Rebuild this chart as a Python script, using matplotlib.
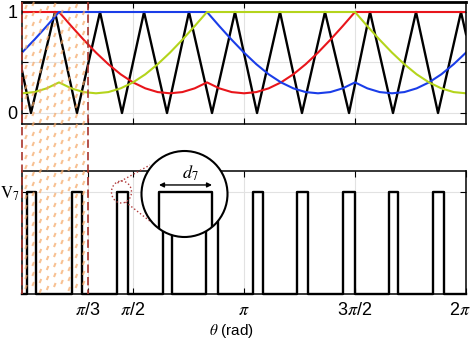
import numpy as np
import matplotlib
matplotlib.use("Agg")
import matplotlib.pyplot as plt
from matplotlib.patches import Circle, Ellipse
from matplotlib.collections import LineCollection
from matplotlib.transforms import ScaledTranslation

plt.rcParams["font.family"] = ["Liberation Sans", "DejaVu Sans"]
plt.rcParams["mathtext.fontset"] = "stix"

# ---- reference (modulating) signals, sampled every 10 degrees ----
ref_deg = list(range(0, 361, 10))
red_ref = [1.0, 1.0, 1.0, 1.0, 0.86, 0.725, 0.598, 0.483, 0.383, 0.303,
           0.244, 0.207, 0.195, 0.207, 0.244, 0.303, 0.244, 0.207, 0.195,
           0.207, 0.244, 0.303, 0.383, 0.483, 0.598, 0.725, 0.86, 1.0,
           1.0, 1.0, 1.0, 1.0, 1.0, 1.0, 1.0, 1.0, 1.0]
blue_ref = [0.598, 0.725, 0.86, 1.0, 1.0, 1.0, 1.0, 1.0, 1.0, 1.0, 1.0,
            1.0, 1.0, 1.0, 1.0, 1.0, 0.86, 0.725, 0.598, 0.483, 0.383,
            0.303, 0.244, 0.207, 0.195, 0.207, 0.244, 0.303, 0.244, 0.207,
            0.195, 0.207, 0.244, 0.303, 0.383, 0.483, 0.598]
green_ref = [0.195, 0.207, 0.244, 0.303, 0.244, 0.207, 0.195, 0.207, 0.244,
             0.303, 0.383, 0.483, 0.598, 0.725, 0.86, 1.0, 1.0, 1.0, 1.0,
             1.0, 1.0, 1.0, 1.0, 1.0, 1.0, 1.0, 1.0, 1.0, 0.86, 0.725,
             0.598, 0.483, 0.383, 0.303, 0.244, 0.207, 0.195]

# ---- triangular carrier vertices (rad, level) ----
carrier_theta = [0.0, 0.127, 0.467, 0.778, 1.104, 1.415, 1.727, 2.052, 2.363,
                 2.689, 3.014, 3.326, 3.651, 3.962, 4.288, 4.628, 4.925,
                 5.250, 5.576, 5.887, 6.212, 6.2832]
carrier_level = [0.42, 0, 1, 0, 1, 0, 1, 0, 1, 0, 1, 0, 1, 0, 1, 0, 1, 0, 1,
                 0, 1, 0.78]

# ---- gate pulses of switch 7 (rising / falling edges, rad) ----
pulse_on = [0.071, 0.708, 1.344, 1.995, 2.604, 3.269, 3.892, 4.543, 5.193, 5.816]
pulse_off = [0.198, 0.849, 1.500, 2.123, 2.774, 3.410, 4.047, 4.712, 5.321, 5.972]
V7 = 1.0

# x ticks
shade_edge = 0.934
xtick_pos = [shade_edge, np.pi / 2, np.pi, 3 * np.pi / 2, 2 * np.pi]
xtick_lab = [r"$\pi$/3", r"$\pi$/2", r"$\pi$", r"3$\pi$/2", r"2$\pi$"]

theta_ref = np.deg2rad(ref_deg)
x_step, y_step = [0.0], [0.0]
for a, b in zip(pulse_on, pulse_off):
    x_step += [a, a, b, b]
    y_step += [0.0, V7, V7, 0.0]
x_step.append(2 * np.pi)
y_step.append(0.0)

W, H = 474, 339
fig = plt.figure(figsize=(W / 100, H / 100), dpi=100)


def rect(l, t, r, b):
    return [l / W, 1 - b / H, (r - l) / W, (b - t) / H]


ax1 = fig.add_axes(rect(22, 2, 466, 124))
ax2 = fig.add_axes(rect(22, 171, 466, 294))

for ax in (ax1, ax2):
    ax.set_xlim(0, 2 * np.pi)
    ax.tick_params(direction="in", top=True, right=True, length=4, width=0.8)
    ax.grid(True, color="#e2e2e2", lw=0.8)
    ax.set_axisbelow(True)
    for s in ax.spines.values():
        s.set_linewidth(1.1)

# upper panel: carrier and references
ax1.plot(carrier_theta, carrier_level, color="k", lw=1.7)
ax1.plot(theta_ref, red_ref, color="#e8151b", lw=1.5)
ax1.plot(theta_ref, blue_ref, color="#1a3de8", lw=1.5)
ax1.plot(theta_ref, green_ref, color="#b4d41c", lw=1.5)
ax1.set_ylim(-0.109, 1.099)
ax1.set_yticks([0, 0.5, 1])
ax1.set_yticklabels(["0", "", "1"], fontsize=13)
ax1.tick_params(axis="y", pad=3.5)
ax1.set_xticks(xtick_pos[:-1])
ax1.set_xticklabels([])
ax1.spines["top"].set_linewidth(2.0)

# lower panel: gate signal
ax2.plot(x_step, y_step, color="k", lw=1.7, clip_on=False, zorder=3)
ax2.set_ylim(0, 1.206)
ax2.set_yticks([V7])
ax2.set_yticklabels([r"$\mathrm{V}_7$"], fontsize=12)
ax2.tick_params(axis="y", pad=1.5)
ax2.set_xticks(xtick_pos)
ax2.set_xticklabels(xtick_lab, fontsize=13)
ax2.tick_params(axis="x", pad=6)
last = ax2.get_xticklabels()[-1]
last.set_transform(last.get_transform() + ScaledTranslation(-0.06, 0, fig.dpi_scale_trans))
ax2.set_xlabel(r"$\theta$ (rad)", fontsize=11, va="center")
ax2.xaxis.set_label_coords(0.471, -0.30)

# overlay in pixel coordinates for the shaded sector and callout
ov = fig.add_axes([0, 0, 1, 1])
ov.set_xlim(0, W)
ov.set_ylim(H, 0)
ov.axis("off")


def to_px(ax, x, y):
    d = ax.transData.transform((x, y))
    return d[0], H - d[1]


x0 = to_px(ax2, 0, 0)[0]
x1 = to_px(ax2, shade_edge, 0)[0]
ytop = to_px(ax1, 0, ax1.get_ylim()[1])[1]
ybot = to_px(ax2, 0, 0)[1]

segs = []
for i, cx in enumerate(np.arange(x0 + 4, x1 - 1, 7.2)):
    for cy in np.arange(ytop + 5 - (i * 3) % 10, ybot - 2, 10):
        if cy < ytop + 2:
            continue
        segs.append([(cx - 0.8, cy + 2.0), (cx + 0.8, cy - 2.0)])
ov.add_collection(LineCollection(segs, colors="#f5a765", linewidths=1.5,
                                 alpha=0.7, capstyle="butt"))
for xx in (x0 + 0.5, x1):
    ov.plot([xx, xx], [ytop, ybot], color="#a8352c", lw=1.2, dashes=(5, 2.5))

# zoom callout around the third pulse
cx3, cy3 = to_px(ax2, (pulse_on[2] + pulse_off[2]) / 2, V7)
ov.add_patch(Ellipse((cx3 - 1, cy3), 20, 22, fill=False, ec="#b03a3a", lw=1.0, ls=":"))
ov.plot([cx3 - 5, 150], [cy3 - 9, 165], color="#b03a3a", lw=1.0, ls=":")
ov.plot([cx3 + 3, 151], [cy3 + 10, 222], color="#b03a3a", lw=1.0, ls=":")

ax_in = fig.add_axes(rect(141.5, 151, 227.5, 237))
ax_in.axis("off")
p_w = pulse_off[2] - pulse_on[2]
scale = 53.0 / p_w
xl = pulse_on[2] - (159 - 141.5) / scale
ax_in.set_xlim(xl, xl + 86 / scale)
ax_in.set_ylim(0.74, 1.24)
bg = Circle((0.5, 0.5), 0.5, transform=ax_in.transAxes, fc="white", ec="none", zorder=0)
ax_in.add_patch(bg)
ln, = ax_in.plot(x_step, y_step, color="k", lw=1.7, zorder=2)
ln.set_clip_path(bg)
ax_in.add_patch(Circle((0.5, 0.5), 0.5, transform=ax_in.transAxes, fc="none",
                       ec="k", lw=1.5, zorder=5, clip_on=False))
ax_in.annotate("", xy=(pulse_off[2], 1.0425), xytext=(pulse_on[2], 1.0425),
               arrowprops=dict(arrowstyle="<|-|>", color="k", lw=1.0,
                               mutation_scale=7, shrinkA=0, shrinkB=0))
ax_in.text(xl + 0.564 * 86 / scale, 1.112, r"$d_7$", fontsize=13,
           ha="center", va="center")

fig.savefig("out.png", dpi=100)
